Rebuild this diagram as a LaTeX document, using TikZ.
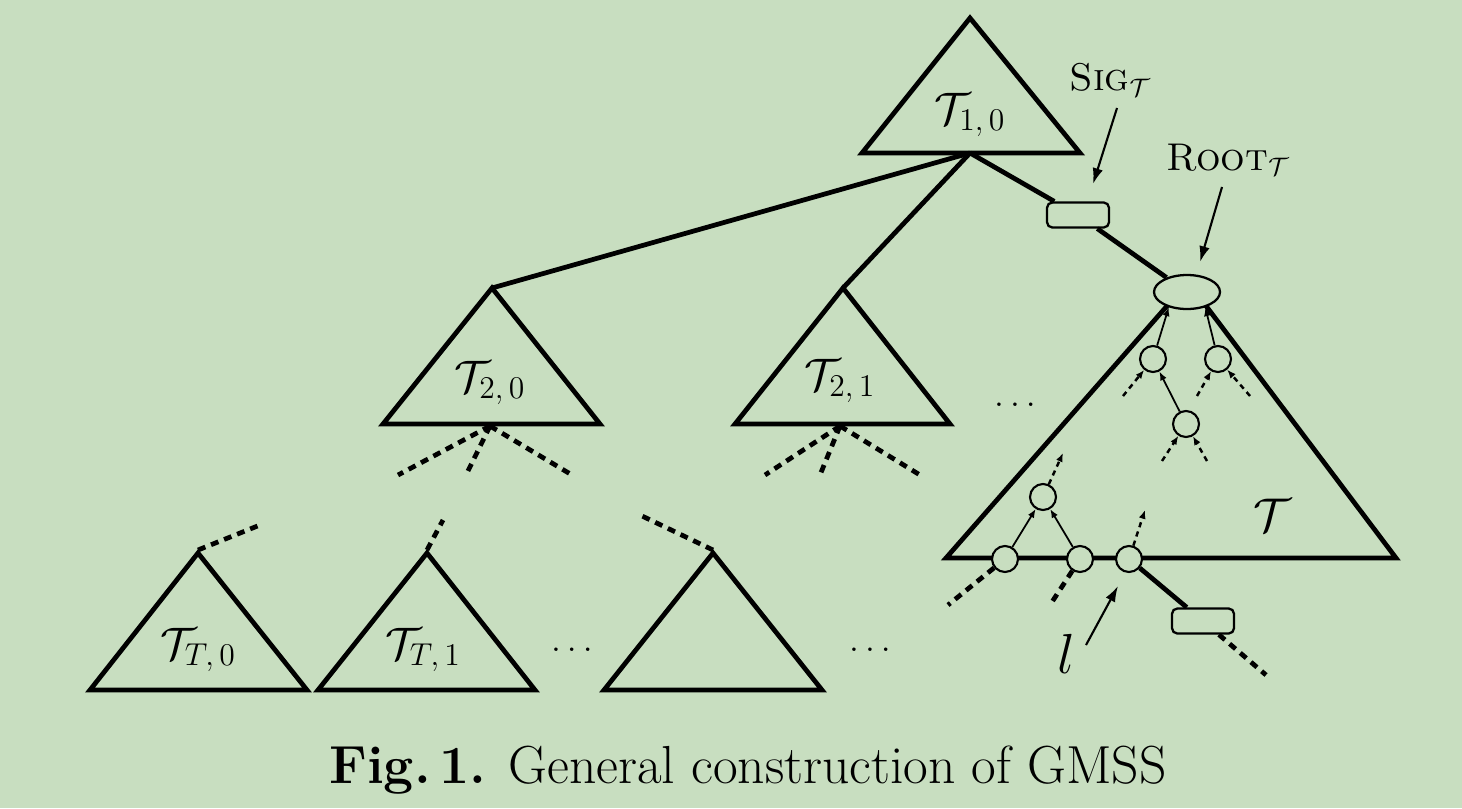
\documentclass[tikz,border=0pt]{standalone}
\usetikzlibrary{shapes.geometric,arrows.meta}
\definecolor{bg}{RGB}{200,222,192}
\tikzset{
 thick line/.style={line width=2.7pt},
 tri/.style={thick line, line join=miter},
 tdash/.style={line width=2.7pt, dash pattern=on 4.5pt off 3.5pt},
 box/.style={draw, line width=1.3pt, rounded corners=3pt, minimum width=1.24cm, minimum height=0.5cm, fill=bg, inner sep=0pt},
 cir/.style={draw, circle, line width=1.2pt, minimum size=0.52cm, inner sep=0pt, fill=bg},
 sarr/.style={line width=1pt, -{Latex[length=5pt,width=4pt]}},
 darr/.style={line width=1.4pt, dash pattern=on 3pt off 2.5pt, -{Latex[length=5pt,width=4pt]}},
 larr/.style={line width=1.2pt, -{Latex[length=9pt,width=6pt]}},
 lab/.style={font=\fontsize{22}{24}\selectfont, inner sep=0pt},
 tlab/.style={font=\fontsize{22}{24}\selectfont, inner sep=0pt, scale=1.25},
}
\begin{document}
\begin{tikzpicture}[x=0.02cm,y=-0.02cm]
\fill[bg] (0,0) rectangle (1462,808);
\useasboundingbox (0,0) rectangle (1462,808);
% top triangle
\draw[tri] (970,18) -- (862,153) -- (1080,153) -- cycle;
\node[tlab] (t10) at (970,115) {$\mathcal T_{1,\,0}$};
\coordinate (r) at (970,153);
% level 2
\draw[tri] (492,288) -- (383,424) -- (600,424) -- cycle;
\node[tlab] (t20) at (490,383) {$\mathcal T_{2,\,0}$};
\draw[tri] (843,288) -- (735,424) -- (950,424) -- cycle;
\node[tlab] (t21) at (840,381) {$\mathcal T_{2,\,1}$};
\coordinate (a20) at (492,288);
\coordinate (a21) at (843,288);
\draw[thick line] (r) -- (a20);
\draw[thick line] (r) -- (a21);
% big T
\draw[tri] (1188,282) -- (946,558) -- (1396,558) -- cycle;
\node[lab, scale=1.3] (tt) at (1272,515) {$\mathcal T$};
\node[box] (sig) at (1078,215) {};
\node[draw, ellipse, line width=1.3pt, minimum width=1.32cm, minimum height=0.68cm, fill=bg, inner sep=0pt] (root) at (1187,292) {};
\draw[thick line] (r) -- (sig);
\draw[thick line] (sig) -- (root);
% dashed under level 2
\coordinate (b20) at (490,426);
\coordinate (b21) at (840,426);
\foreach \x in {398,466,572} \draw[tdash] (b20) -- (\x,475);
\foreach \x in {765,820,920} \draw[tdash] (b21) -- (\x,475);
\node[lab] (d1) at (1015,405) {$\dots$};
% inner circles
\node[cir] (c1) at (1153,359) {};
\node[cir] (c2) at (1218,359) {};
\node[cir] (c3) at (1186,424) {};
\node[cir] (c4) at (1043,497) {};
\node[cir] (l1) at (1005,559) {};
\node[cir] (l2) at (1080,559) {};
\node[cir] (l3) at (1129,559) {};
\draw[sarr] (c1) -- (root.220);
\draw[sarr] (c2) -- (root.320);
\draw[sarr] (c3) -- (c1);
\draw[sarr] (l1) -- (c4);
\draw[sarr] (l2) -- (c4);
\foreach \p/\t in {{(1123,396)}/c1,{(1197,396)}/c2,{(1250,396)}/c2,{(1162,461)}/c3,{(1207,461)}/c3}
  \draw[darr] \p -- (\t);
\coordinate (o1) at (1063,453);
\coordinate (o2) at (1145,510);
\draw[darr] (c4) -- (o1);
\draw[darr] (l3) -- (o2);
\coordinate (e1) at (948,605);
\coordinate (e2) at (1050,605);
\draw[tdash] (l1) -- (e1);
\draw[tdash] (l2) -- (e2);
\node[box] (rb) at (1203,621) {};
\draw[thick line] (l3) -- (rb);
\coordinate (e3) at (1266,675);
\draw[tdash] (rb) -- (e3);
% labels
\node[lab, scale=1.55] (l) at (1066,654) {$l$};
\draw[larr] (1086,645) -- (1118,586);
\node[lab] (siglab) at (1110,80) {\textsc{Sig}$_{\mathcal T}$};
\draw[larr] (1117,108) -- (1093,184);
\node[lab] (rootlab) at (1228,160) {\textsc{Root}$_{\mathcal T}$};
\draw[larr] (1222,187) -- (1200,262);
% bottom
\draw[tri] (198,553) -- (90,690) -- (307,690) -- cycle;
\node[tlab] (tt0) at (198,650) {$\mathcal T_{T,\,0}$};
\draw[tri] (427,553) -- (318,690) -- (535,690) -- cycle;
\node[tlab] (tt1) at (423,650) {$\mathcal T_{T,\,1}$};
\draw[tri] (713,553) -- (604,690) -- (822,690) -- cycle;
\node[lab] (d2) at (572,650) {$\dots$};
\node[lab] (d3) at (870,650) {$\dots$};
\coordinate (p0) at (198,550);
\coordinate (p1) at (427,550);
\coordinate (p2) at (713,550);
\draw[tdash] (p0) -- (260,525);
\draw[tdash] (p1) -- (443,520);
\draw[tdash] (p2) -- (640,515);
\node[inner sep=0pt] (cap) at (748,770) {\fontsize{30.5}{33}\selectfont\textbf{Fig.\,1.} General construction of GMSS};
\end{tikzpicture}
\end{document}
